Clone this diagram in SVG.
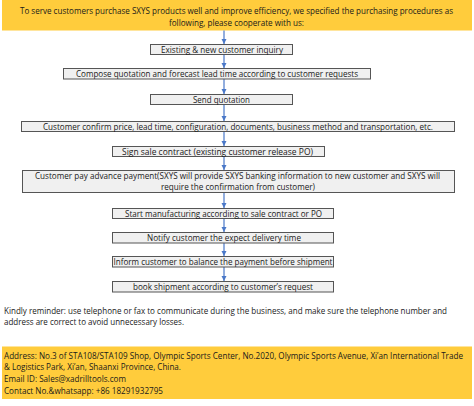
<svg xmlns="http://www.w3.org/2000/svg" width="474" height="406" viewBox="0 0 474 406">
<style>
.t{font-family:"Open Sans","Liberation Sans",sans-serif;font-size:8.5px;fill:#1a1a1a}
.box{fill:#f0f0f0;stroke:#555;stroke-width:1}
.ar{stroke:#4a78c8;stroke-width:1.2;fill:none;marker-end:url(#ah)}
</style>
<defs>
<marker id="ah" markerWidth="6" markerHeight="6" refX="5" refY="3" orient="auto" markerUnits="userSpaceOnUse">
<path d="M0,0.5 L5,3 L0,5.5 Z" fill="#4a78c8"/>
</marker>
</defs>
<rect width="474" height="406" fill="#fff"/>
<g id="header">
<rect x="2" y="0" width="470" height="30.5" fill="#ffcc3c"/>
<text class="t" x="20" y="13.5" textLength="433" lengthAdjust="spacingAndGlyphs">To serve customers purchase SXYS products well and improve efficiency, we specified the purchasing procedures as</text>
<text class="t" x="169" y="26" textLength="135" lengthAdjust="spacingAndGlyphs">following, please cooperate with us:</text>
</g>
<g id="connectors">
<line class="ar" x1="224" y1="30.5" x2="224" y2="44"/>
<line class="ar" x1="224" y1="54" x2="224" y2="68"/>
<line class="ar" x1="224" y1="79" x2="224" y2="94"/>
<line class="ar" x1="224" y1="104" x2="224" y2="121"/>
<line class="ar" x1="224" y1="131" x2="224" y2="146"/>
<line class="ar" x1="224" y1="156" x2="224" y2="170"/>
<line class="ar" x1="224" y1="192" x2="224" y2="208"/>
<line class="ar" x1="224" y1="218" x2="224" y2="232"/>
<line class="ar" x1="224" y1="243" x2="224" y2="256"/>
<line class="ar" x1="224" y1="267" x2="224" y2="281"/>
</g>
<g id="n1"><rect class="box" x="150.5" y="44.5" width="142" height="10"/><text class="t" x="161" y="52.5" textLength="122" lengthAdjust="spacingAndGlyphs">Existing &amp; new customer inquiry</text></g>
<g id="n2"><rect class="box" x="63.5" y="68.5" width="307" height="10.5"/><text class="t" x="76" y="77" textLength="282" lengthAdjust="spacingAndGlyphs">Compose quotation and forecast lead time according to customer requests</text></g>
<g id="n3"><rect class="box" x="150.5" y="94.5" width="142" height="10"/><text class="t" x="193" y="102.5" textLength="57" lengthAdjust="spacingAndGlyphs">Send quotation</text></g>
<g id="n4"><rect class="box" x="21.5" y="121.5" width="433" height="10"/><text class="t" x="43" y="129.5" textLength="390" lengthAdjust="spacingAndGlyphs">Customer confirm price, lead time, configuration, documents, business method and transportation, etc.</text></g>
<g id="n5"><rect class="box" x="112.5" y="146.5" width="212" height="10"/><text class="t" x="122" y="154.5" textLength="191" lengthAdjust="spacingAndGlyphs">Sign sale contract (existing customer release PO)</text></g>
<g id="n6"><rect class="box" x="22.5" y="170.5" width="432" height="22"/><text class="t" x="35" y="178.5" textLength="405" lengthAdjust="spacingAndGlyphs">Customer pay advance payment(SXYS will provide SXYS banking information to new customer and SXYS will</text><text class="t" x="161" y="189.5" textLength="154" lengthAdjust="spacingAndGlyphs">require the confirmation from customer)</text></g>
<g id="n7"><rect class="box" x="112.5" y="208.5" width="221" height="10"/><text class="t" x="125" y="216.5" textLength="197" lengthAdjust="spacingAndGlyphs">Start manufacturing according to sale contract or PO</text></g>
<g id="n8"><rect class="box" x="112.5" y="232.5" width="221" height="10.5"/><text class="t" x="147" y="241" textLength="154" lengthAdjust="spacingAndGlyphs">Notify customer the expect delivery time</text></g>
<g id="n9"><rect class="box" x="112.5" y="256.5" width="221" height="10.5"/><text class="t" x="113.5" y="265" textLength="219" lengthAdjust="spacingAndGlyphs">Inform customer to balance the payment before shipment</text></g>
<g id="n10"><rect class="box" x="112.5" y="281.5" width="221" height="10.5"/><text class="t" x="133" y="290" textLength="180" lengthAdjust="spacingAndGlyphs">book shipment according to customer’s request</text></g>
<g id="reminder">
<text class="t" x="4" y="314" textLength="443" lengthAdjust="spacingAndGlyphs">Kindly reminder: use telephone or fax to communicate during the business, and make sure the telephone number and</text>
<text class="t" x="4" y="325" textLength="180" lengthAdjust="spacingAndGlyphs">address are correct to avoid unnecessary losses.</text>
</g>
<g id="footer">
<rect x="2" y="346.5" width="470" height="52.5" fill="#ffcc3c"/>
<text class="t" x="4" y="358.5" textLength="459" lengthAdjust="spacingAndGlyphs">Address: No.3 of STA108/STA109 Shop, Olympic Sports Center, No.2020, Olympic Sports Avenue, Xi’an International Trade</text>
<text class="t" x="4" y="370" textLength="177" lengthAdjust="spacingAndGlyphs">&amp; Logistics Park, Xi’an, Shaanxi Province, China.</text>
<text class="t" x="4" y="382" textLength="122" lengthAdjust="spacingAndGlyphs">Email ID: Sales@xadrilltools.com</text>
<text class="t" x="4" y="394" textLength="159" lengthAdjust="spacingAndGlyphs">Contact No.&amp;whatsapp: +86 18291932795</text>
</g>
</svg>
